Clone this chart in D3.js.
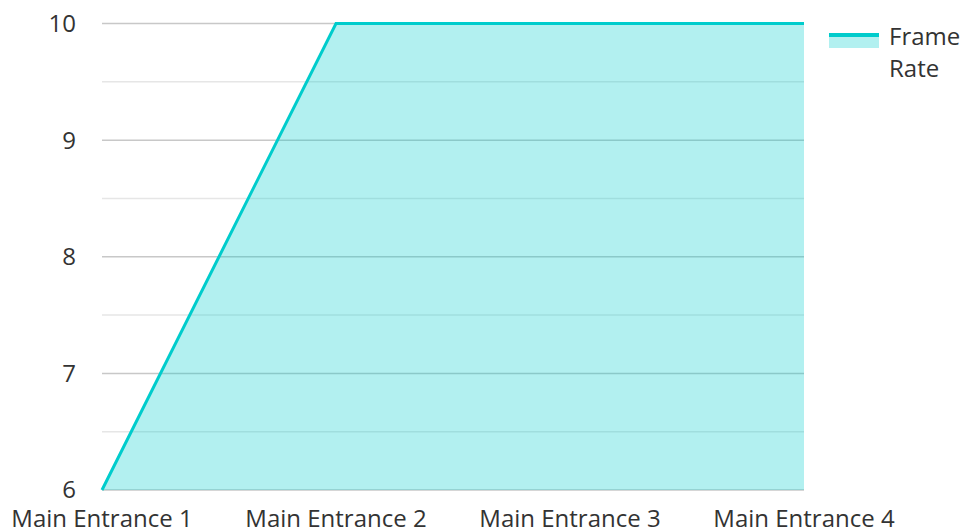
<!DOCTYPE html>
<html>
<head>
<meta charset="utf-8">
<script src="https://cdn.jsdelivr.net/npm/d3@7"></script>
<style>
    body { margin: 0; background: #fff; }
    svg { display: block; font-family: 'Open Sans', sans-serif; }
</style>
</head>
<body>
<div class="chart"></div>
<script>
const categories = ['Main Entrance 1', 'Main Entrance 2', 'Main Entrance 3', 'Main Entrance 4'];
const frameRate = [6, 10, 10, 10];
const yTicks = [6, 7, 8, 9, 10];
const seriesName = ['Frame', 'Rate'];

const width = 962;
const height = 530;
const margin = { top: 23.5, right: 158, bottom: 40, left: 102 };
const lineColor = '#00cccc';
const fontSize = '24px';

const svg = d3.select('.chart')
    .append('svg')
    .attr('width', width)
    .attr('height', height);

const x = d3.scalePoint()
    .domain(categories)
    .range([margin.left, width - margin.right]);

const y = d3.scaleLinear()
    .domain([6, 10])
    .range([height - margin.bottom, margin.top]);

// grid lines, minor ones every half unit
const minor = d3.range(6.5, 10, 1);
svg.append('g')
    .selectAll('line')
    .data(minor)
    .enter()
    .append('line')
    .attr('x1', margin.left)
    .attr('x2', width - margin.right)
    .attr('y1', d => y(d))
    .attr('y2', d => y(d))
    .attr('stroke', '#e6e6e6')
    .attr('stroke-width', 1.5);

svg.append('g')
    .selectAll('line')
    .data(yTicks)
    .enter()
    .append('line')
    .attr('x1', margin.left)
    .attr('x2', width - margin.right)
    .attr('y1', d => y(d))
    .attr('y2', d => y(d))
    .attr('stroke', '#c8c8c8')
    .attr('stroke-width', 1.5);

const points = categories.map((c, i) => ({ c, v: frameRate[i] }));

const area = d3.area()
    .x(d => x(d.c))
    .y0(y(6))
    .y1(d => y(d.v));

const line = d3.line()
    .x(d => x(d.c))
    .y(d => y(d.v));

svg.append('path')
    .datum(points)
    .attr('d', area)
    .attr('fill', lineColor)
    .attr('fill-opacity', 0.3);

svg.append('path')
    .datum(points)
    .attr('d', line)
    .attr('fill', 'none')
    .attr('stroke', lineColor)
    .attr('stroke-width', 3);

// y labels
svg.append('g')
    .selectAll('text')
    .data(yTicks)
    .enter()
    .append('text')
    .attr('x', 76)
    .attr('y', d => y(d))
    .attr('dy', '0.35em')
    .attr('text-anchor', 'end')
    .attr('fill', '#333')
    .style('font-size', fontSize)
    .text(d => d);

// x labels
svg.append('g')
    .selectAll('text')
    .data(categories)
    .enter()
    .append('text')
    .attr('x', d => x(d))
    .attr('y', 527)
    .attr('text-anchor', 'middle')
    .attr('fill', '#333')
    .style('font-size', fontSize)
    .text(d => d);

// legend
const legend = svg.append('g');
legend.append('rect')
    .attr('x', 829)
    .attr('y', 35)
    .attr('width', 50)
    .attr('height', 13)
    .attr('fill', lineColor)
    .attr('fill-opacity', 0.3);
legend.append('line')
    .attr('x1', 829)
    .attr('x2', 879)
    .attr('y1', 35)
    .attr('y2', 35)
    .attr('stroke', lineColor)
    .attr('stroke-width', 4);
legend.append('text')
    .attr('x', 889)
    .attr('fill', '#333')
    .style('font-size', fontSize)
    .selectAll('tspan')
    .data(seriesName)
    .enter()
    .append('tspan')
    .attr('x', 889)
    .attr('y', (d, i) => 45 + i * 32)
    .text(d => d);
</script>
</body>
</html>
